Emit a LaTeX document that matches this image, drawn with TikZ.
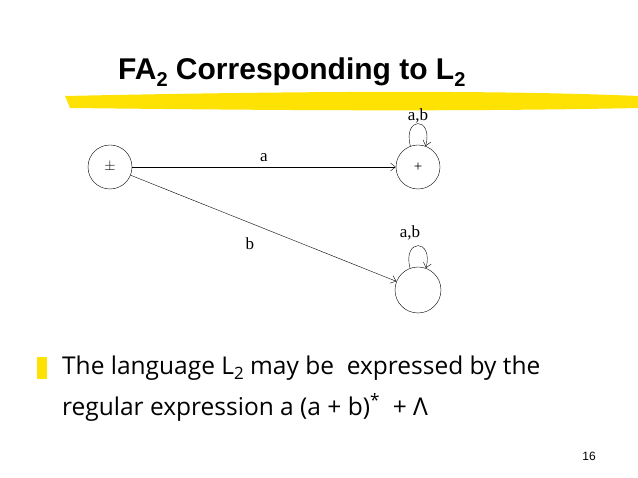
\documentclass[tikz,border=0pt]{standalone}
\usepackage{fontspec}
\setmainfont{Liberation Serif}
\newfontfamily\bodyfont{Open Sans}
\newfontfamily\titlefont{Liberation Sans}
\usetikzlibrary{arrows.meta}
\begin{document}
\begin{tikzpicture}[x=1pt,y=-1pt,
  st/.style={draw,circle,minimum size=44pt,inner sep=0pt,font=\fontsize{15}{16}\selectfont},
  tr/.style={-{Straight Barb[length=5pt,width=8pt]},thin},
  lbl/.style={font=\fontsize{17}{18}\selectfont}]
\useasboundingbox (0,0) rectangle (638,478);
\node[anchor=base west,font=\titlefont\bfseries\fontsize{30}{32}\selectfont,inner sep=0pt] (title) at (118,80) {FA\raisebox{-7pt}{\fontsize{20}{20}\selectfont 2} Corresponding to L\raisebox{-7pt}{\fontsize{20}{20}\selectfont 2}};
\fill[yellow!85!orange] (65,96) .. controls (300,91) and (500,90) .. (638,96) -- (638,108) .. controls (450,112) and (250,110) .. (70,108) -- cycle;
\node[st] (s) at (110,167) {$\pm$};
\node[st] (f) at (418,167) {+};
\node[st,minimum size=46pt] (d) at (418,290) {};
\draw[tr] (s) -- node[lbl,above=2pt]{a} (f);
\draw[tr] (s) -- node[lbl,pos=0.5,below left=6pt]{b} (d);
\draw[tr] (f.110) .. controls +(-8,-30) and +(8,-30) .. node[lbl,above=-3pt]{a,b} (f.70);
\draw[tr] (d.110) .. controls +(-8,-30) and +(8,-30) .. node[lbl,above=2pt,xshift=-8pt]{a,b} (d.70);
\fill[yellow!85!orange] (37,357) rectangle (47,379);
\node[anchor=base west,font=\bodyfont\fontsize{24.5}{27}\selectfont,inner sep=0pt] (l1) at (62,375) {The language L\raisebox{-5pt}{\fontsize{17}{17}\selectfont 2} may be\ \ expressed by the};
\node[anchor=base west,font=\bodyfont\fontsize{24.5}{27}\selectfont,inner sep=0pt] (l2) at (62,416) {regular expression a (a + b)\textsuperscript{*}\ \ + Λ};
\node[anchor=base,font=\titlefont\fontsize{12}{13}\selectfont] (pg) at (589,461) {16};
\end{tikzpicture}
\end{document}
